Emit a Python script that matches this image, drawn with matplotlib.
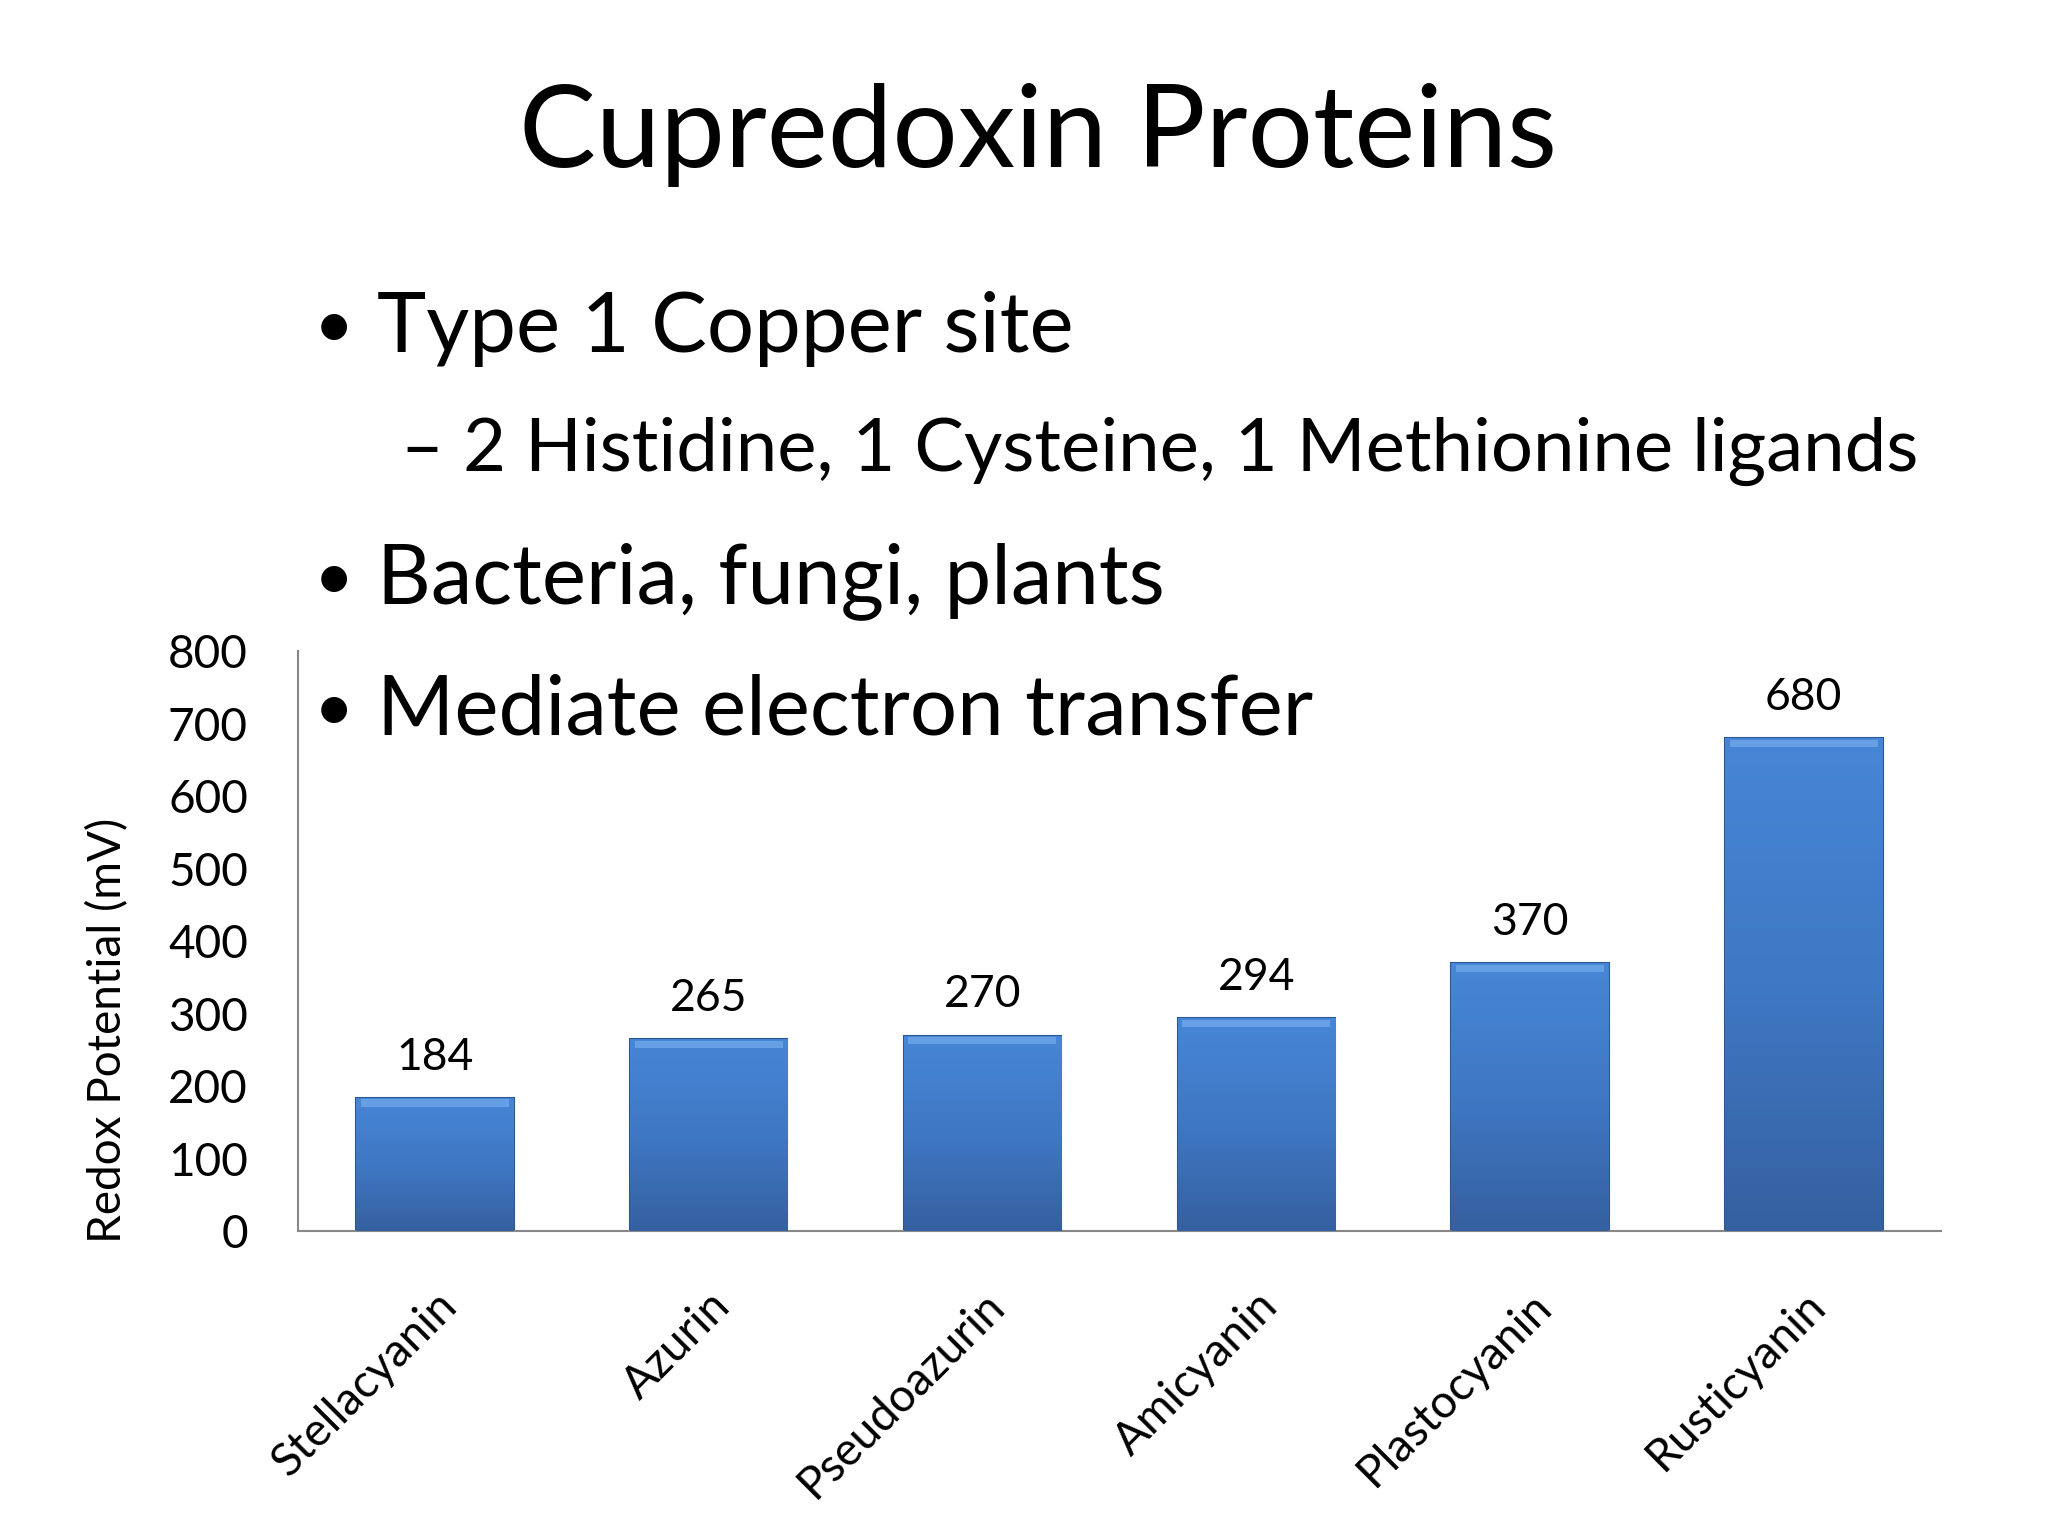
import numpy as np
import matplotlib.pyplot as plt
from matplotlib.colors import LinearSegmentedColormap

proteins = ["Stellacyanin", "Azurin", "Pseudoazurin", "Amicyanin", "Plastocyanin", "Rusticyanin"]
potentials = [184, 265, 270, 294, 370, 680]
yticks = [0, 100, 200, 300, 400, 500, 600, 700, 800]

plt.rcParams["font.family"] = ["Lato", "DejaVu Sans"]

fig = plt.figure(figsize=(20.48, 15.36), dpi=100)
fig.patch.set_facecolor("white")

# slide text
fig.text(0.507, 0.912, "Cupredoxin Proteins", ha="center", va="center", fontsize=83)
fig.text(0.153, 0.786, "\u2022", ha="left", va="center", fontsize=50)
fig.text(0.184, 0.786, "Type 1 Copper site", ha="left", va="center", fontsize=60)
fig.text(0.196, 0.706, "\u2013 2 Histidine, 1 Cysteine, 1 Methionine ligands", ha="left", va="center", fontsize=53.5)
fig.text(0.153, 0.622, "\u2022", ha="left", va="center", fontsize=50)
fig.text(0.184, 0.622, "Bacteria, fungi, plants", ha="left", va="center", fontsize=60)
fig.text(0.153, 0.537, "\u2022", ha="left", va="center", fontsize=50)
fig.text(0.184, 0.537, "Mediate electron transfer", ha="left", va="center", fontsize=60)

ax = fig.add_axes([0.1455, 0.1983, 0.8021, 0.3776])
ax.patch.set_alpha(0)
x = np.arange(len(proteins))
bars = ax.bar(x, potentials, width=0.575, color="#3d74bf", edgecolor="#2c568f", linewidth=1.5, zorder=2)

# vertical gradient inside each bar
cmap = LinearSegmentedColormap.from_list("bev", ["#3560a0", "#3f78c4", "#4786d6"])
grad = np.linspace(0, 1, 256).reshape(-1, 1)
for b in bars:
    x0, y0 = b.get_x(), b.get_y()
    w, h = b.get_width(), b.get_height()
    im = ax.imshow(grad, extent=[x0, x0 + w, y0, y0 + h], origin="lower", cmap=cmap,
                   aspect="auto", zorder=3)
    im.set_clip_path(b)
    # light bevel at the top
    ax.fill_between([x0 + w * 0.03, x0 + w * 0.97], y0 + h - 12, y0 + h - 2,
                    color="#6fa6e8", alpha=0.8, linewidth=0, zorder=4)

for xi, v in zip(x, potentials):
    ax.text(xi, v + 28, str(v), ha="center", va="bottom", fontsize=32)

ax.set_xlim(-0.5, len(proteins) - 0.5)
ax.set_ylim(0, 800)
ax.set_yticks(yticks)
ax.set_yticklabels([str(t) for t in yticks], fontsize=33)
ax.set_xticks(x)
ax.set_xticklabels(proteins, rotation=45, ha="right", rotation_mode="anchor", fontsize=33)
ax.tick_params(axis="y", length=0, pad=36)
ax.tick_params(axis="x", length=0, pad=38)
ax.set_ylabel("Redox Potential (mV)", fontsize=33)
ax.yaxis.set_label_coords(-0.103, 0.346)
for s in ["top", "right"]:
    ax.spines[s].set_visible(False)
for s in ["left", "bottom"]:
    ax.spines[s].set_color("#888888")
    ax.spines[s].set_linewidth(1.5)

fig.savefig("out.png", dpi=100, facecolor="white")
